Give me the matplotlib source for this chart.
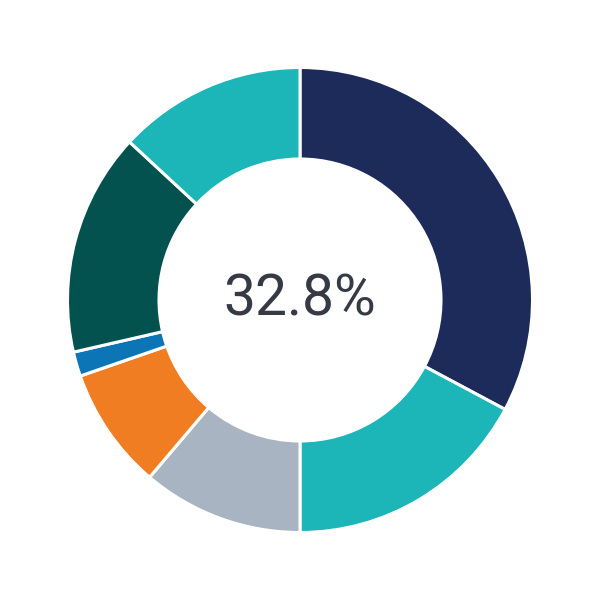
import matplotlib.pyplot as plt

labels = ['A', 'B', 'C', 'D', 'E', 'F', 'G']
values = [32.8, 17.2, 11.2, 8.5, 1.7, 15.5, 13.1]
colors = ['#1c2b5a', '#1cb5b8', '#a9b4c2', '#f17d22', '#0b75b6', '#03524f', '#1cb5b8']
center_text = '32.8%'

fig = plt.figure(figsize=(6, 6), dpi=100)
ax = fig.add_axes([0, 0, 1, 1])

ax.pie(values, colors=colors, startangle=90, counterclock=False,
       radius=0.775,
       wedgeprops=dict(width=0.305, edgecolor='white', linewidth=2.2))

ax.text(0, 0, center_text, ha='center', va='center', fontsize=41,
        family='Roboto', color='#363a45')

ax.set_xlim(-1, 1)
ax.set_ylim(-1, 1)
ax.set_aspect('equal')
ax.axis('off')

fig.savefig('out.png', dpi=100, facecolor='white')
